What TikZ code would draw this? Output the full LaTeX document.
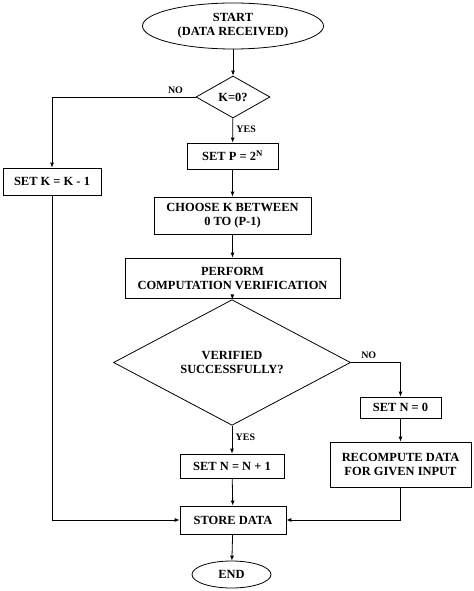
\documentclass[tikz,border=0pt]{standalone}
\usepackage{fontspec}
\setmainfont{Liberation Serif}
\usetikzlibrary{arrows.meta,shapes.geometric}

\begin{document}
\begin{tikzpicture}[
    x=1bp, y=-1bp,
    font=\bfseries\fontsize{12.5}{14}\selectfont,
    line/.style={line width=0.8pt, -{Latex[length=5pt,width=4pt]}},
    proc/.style={draw, line width=0.8pt, rectangle, align=center, inner sep=0pt},
    term/.style={draw, line width=0.8pt, ellipse, align=center, inner sep=0pt},
    decide/.style={draw, line width=0.8pt, diamond, align=center, inner sep=0pt},
    lbl/.style={font=\bfseries\fontsize{10}{11}\selectfont}
]
    \useasboundingbox (0,0) rectangle (474,591);

    % Начало и проверка K
    \node[term, minimum width=181bp, minimum height=46bp] (start) at (233,26) {START\\(DATA RECEIVED)};
    \node[decide, minimum width=74bp, minimum height=42bp] (kzero) at (233,97) {K=0?};
    \node[proc, minimum width=91bp, minimum height=26bp] (setp) at (232.5,156) {SET P = 2\textsuperscript{N}};
    \node[proc, minimum width=98bp, minimum height=27bp] (setk) at (52,181.5) {SET K = K - 1};

    % Основная ветвь
    \node[proc, minimum width=157bp, minimum height=37bp] (choose) at (232.5,215.5) {CHOOSE K BETWEEN\\0 TO (P-1)};
    \node[proc, minimum width=215bp, minimum height=40bp] (perform) at (232.5,278) {PERFORM\\COMPUTATION VERIFICATION};
    \node[decide, minimum width=237bp, minimum height=89bp] (verify) at (232,362.5) {VERIFIED\\SUCCESSFULLY?};

    % Ветви после проверки
    \node[proc, minimum width=81bp, minimum height=21bp] (setnzero) at (400.5,407.5) {SET N = 0};
    \node[proc, minimum width=141bp, minimum height=45bp] (recompute) at (400.5,464.5) {RECOMPUTE DATA\\FOR GIVEN INPUT};
    \node[proc, minimum width=104bp, minimum height=24bp] (setninc) at (232,466) {SET N = N + 1};

    % Конец
    \node[proc, minimum width=106bp, minimum height=28bp] (store) at (233,520) {STORE DATA};
    \node[term, minimum width=79bp, minimum height=27bp] (stop) at (231.5,574.5) {END};

    % Соединения
    \draw[line] (start) -- (kzero);
    \draw[line] (kzero) -- node[lbl, right, pos=0.46] {YES} (setp);
    \draw[line] (kzero.west) -| node[lbl, above, pos=0.07] {NO} (setk);
    \draw[line] (setp) -- (choose);
    \draw[line] (choose) -- (perform);
    \draw[line] (perform) -- (verify);
    \draw[line] (verify.east) -| node[lbl, above, pos=0.18] {NO} (setnzero);
    \draw[line] (setnzero) -- (recompute);
    \draw[line] (verify) -- node[lbl, right, pos=0.43] {YES} (setninc);
    \draw[line] (setninc) -- (store);
    \draw[line] (setk) |- (store);
    \draw[line] (recompute) |- (store);
    \draw[line] (store) -- (stop);
\end{tikzpicture}
\end{document}
